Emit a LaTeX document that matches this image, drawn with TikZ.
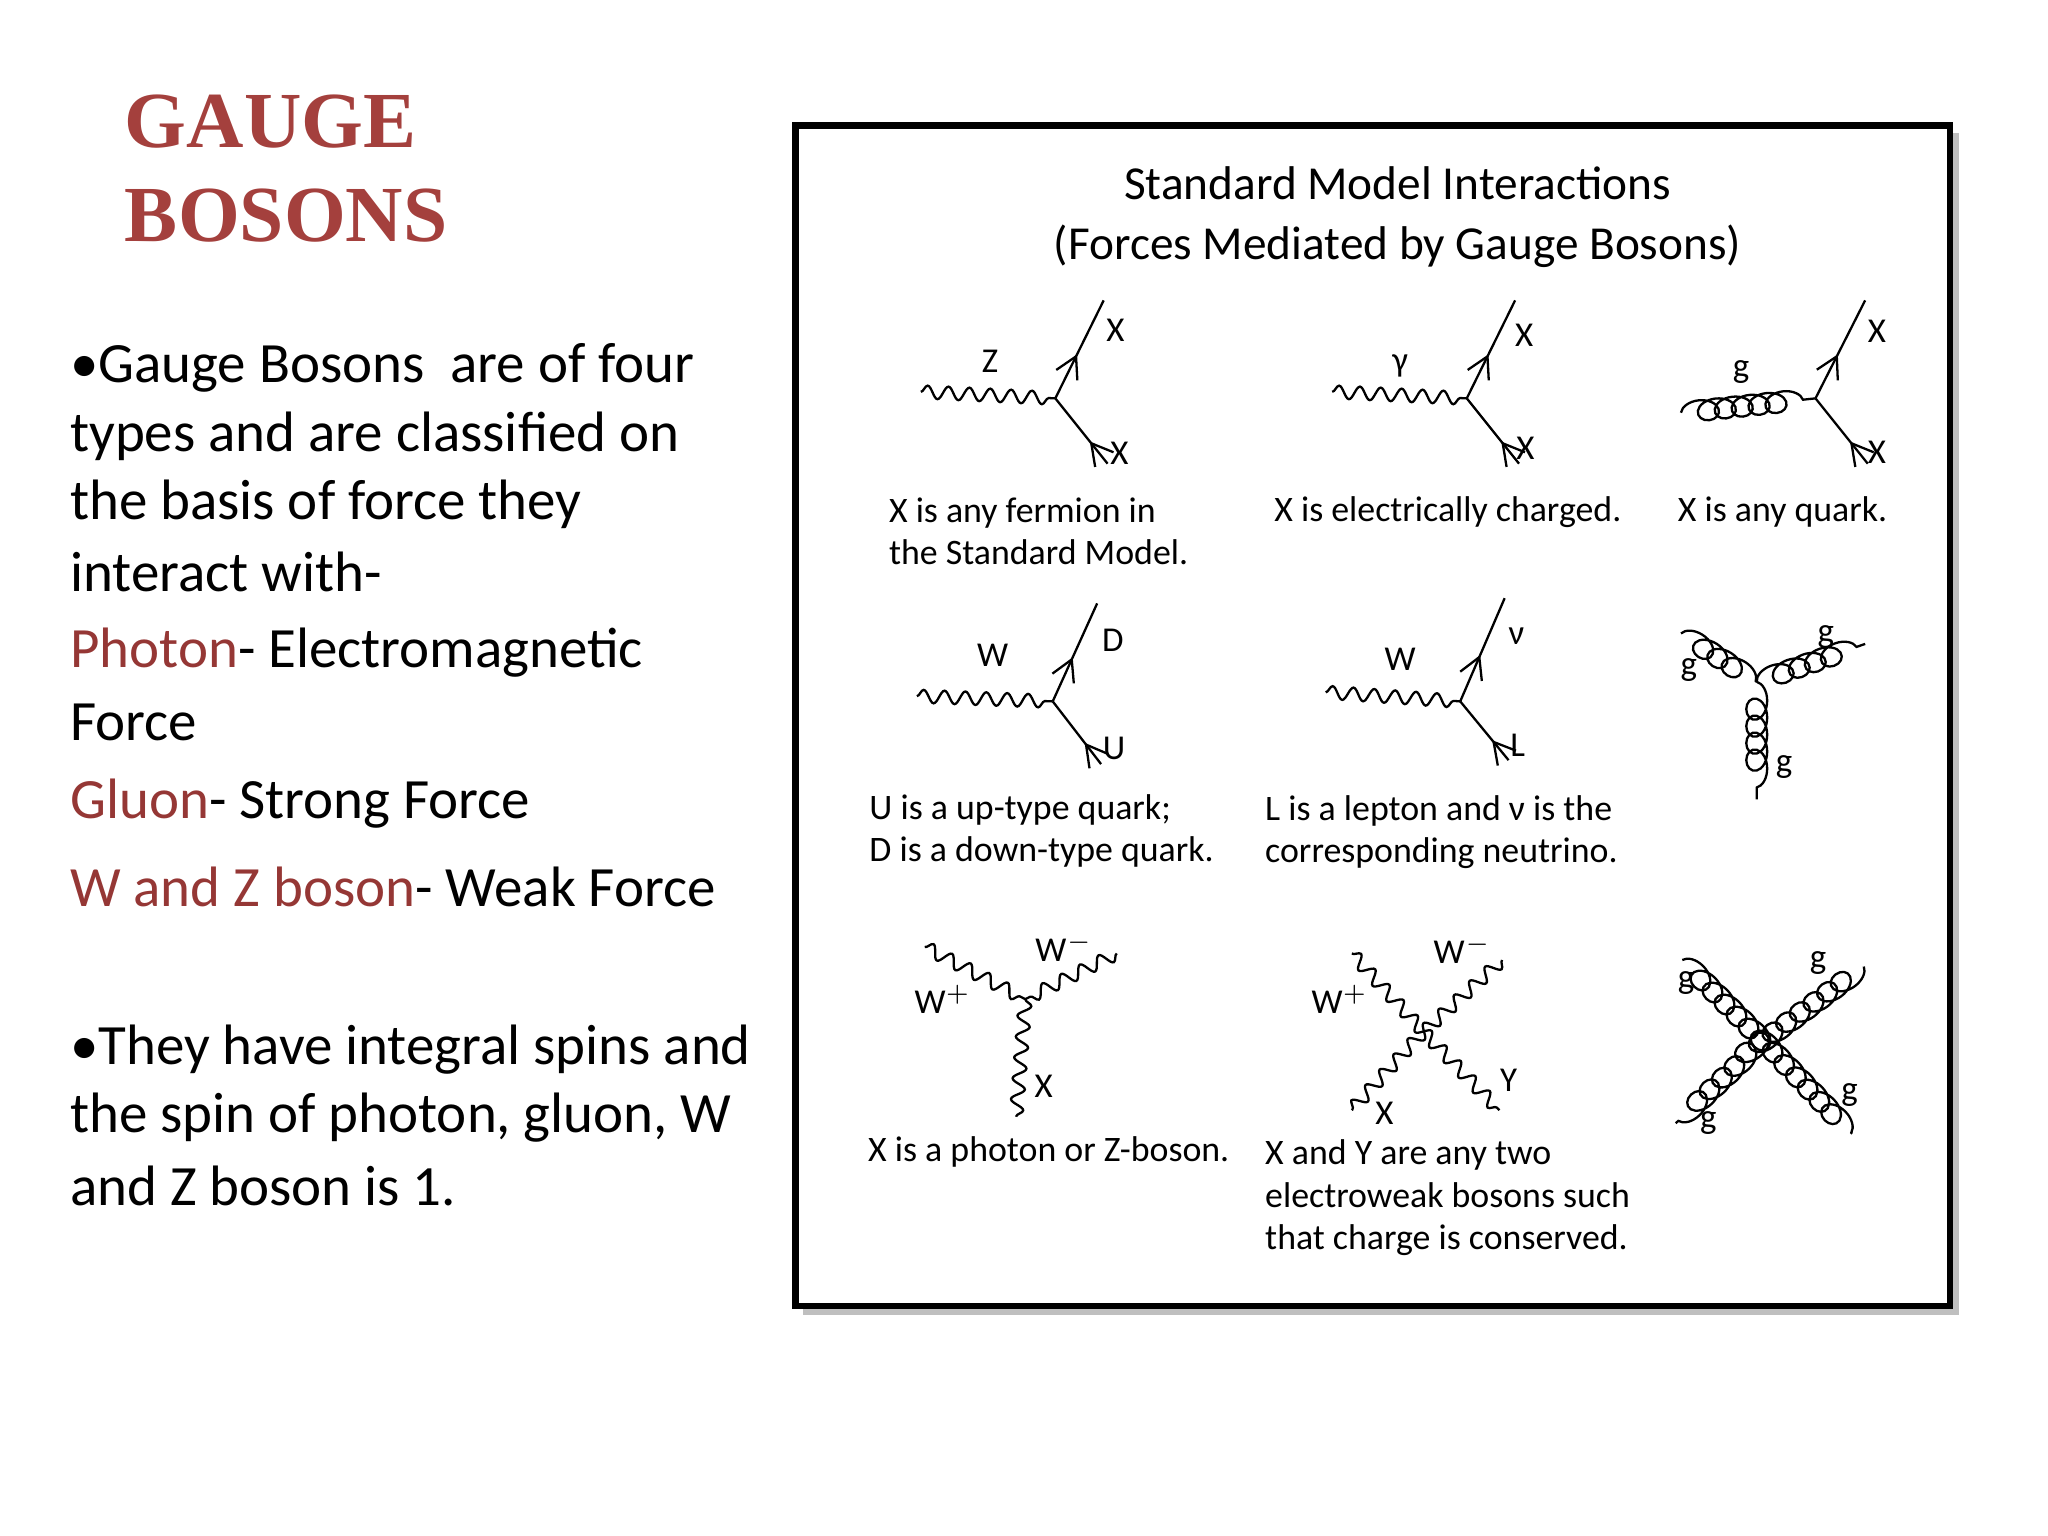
\documentclass[tikz,border=0pt]{standalone}
\usepackage{fontspec}
\setmainfont{Carlito}
\newfontfamily\titlefont{Liberation Serif}
\usetikzlibrary{decorations.pathmorphing,decorations.markings,arrows.meta}
\definecolor{ttl}{HTML}{A4403D}
\definecolor{hl}{HTML}{953735}
\begin{document}
\begin{tikzpicture}[x=0.01cm,y=-0.01cm,
  body/.style={anchor=west,font=\fontsize{12.4}{14}\selectfont,inner sep=0},
  lbl/.style={font=\fontsize{7.6}{8}\selectfont,inner sep=0},
  captxt/.style={anchor=west,font=\fontsize{7.8}{9.2}\selectfont,inner sep=0,align=left},
  fer/.style={line width=0.5pt},
  outarr/.style={fer,postaction={decorate},decoration={markings,mark=at position 0.45 with {\arrow{Straight Barb[length=1.6mm,width=1.8mm]}}}},
  inarr/.style={fer,postaction={decorate},decoration={markings,mark=at position 0.66 with {\arrowreversed{Straight Barb[length=1.6mm,width=1.8mm]}}}},
  wav/.style={line width=0.5pt,decorate,decoration={snake,segment length=0.16cm,amplitude=0.05cm}},
  glu/.style={line width=0.5pt,decorate,decoration={coil,segment length=0.13cm,amplitude=0.08cm,aspect=1.4}}]
\useasboundingbox (0,0) rectangle (1568,1176);
% title
\node[anchor=west,inner sep=0,font=\titlefont\bfseries\fontsize{17.3}{20}\selectfont,text=ttl] (t1) at (95,93) {GAUGE};
\node[anchor=west,inner sep=0,font=\titlefont\bfseries\fontsize{17.3}{20}\selectfont,text=ttl] (t2) at (95,165) {BOSONS};
% left text
\node[body] (b1) at (53,282) {•Gauge Bosons\ \ are of four};
\node[body] (b2) at (53,334) {types and are classified on};
\node[body] (b3) at (53,386) {the basis of force they};
\node[body] (b4) at (53,438) {interact with-};
\node[body] (b5) at (53,500) {\textcolor{hl}{Photon}- Electromagnetic};
\node[body] (b6) at (53,553) {Force};
\node[body] (b7) at (53,615) {\textcolor{hl}{Gluon}- Strong Force};
\node[body] (b8) at (53,679) {\textcolor{hl}{W and Z boson}- Weak Force};
\node[body] (c1) at (53,804) {•They have integral spins and};
\node[body] (c2) at (53,856) {the spin of photon, gluon, W};
\node[body] (c3) at (53,908) {and Z boson is 1.};
% frame
\fill[black!25] (615,102) rectangle (1500,1007);
\draw[line width=1.4pt,fill=white] (609,96) rectangle (1493,1000);
\node[font=\fontsize{10.3}{13}\selectfont,align=center] (hd) at (1070,166) {Standard Model Interactions\\(Forces Mediated by Gauge Bosons)};
% D1
\coordinate (v1) at (808,305); \coordinate (a1) at (705,300); \coordinate (u1) at (845,230); \coordinate (d1) at (848,355);
\draw[wav] (a1) -- (v1); \draw[outarr] (v1) -- (u1); \draw[inarr] (v1) -- (d1);
\node[lbl] (l1a) at (758,277) {Z}; \node[lbl] (l1b) at (854,253) {X}; \node[lbl] (l1c) at (857,347) {X};
\node[captxt] (k1) at (680,407) {X is any fermion in\\the Standard Model.};
% D2
\coordinate (v2) at (1123,305); \coordinate (a2) at (1020,300); \coordinate (u2) at (1160,230); \coordinate (d2) at (1163,355);
\draw[wav] (a2) -- (v2); \draw[outarr] (v2) -- (u2); \draw[inarr] (v2) -- (d2);
\node[lbl] (l2a) at (1072,280) {γ}; \node[lbl] (l2b) at (1167,257) {X}; \node[lbl] (l2c) at (1168,343) {X};
\node[captxt] (k2) at (975,392) {X is electrically charged.};
% D3
\coordinate (v3) at (1390,305); \coordinate (a3) at (1287,316); \coordinate (u3) at (1428,230); \coordinate (d3) at (1430,355);
\draw[glu] (a3) -- (v3); \draw[outarr] (v3) -- (u3); \draw[inarr] (v3) -- (d3);
\node[lbl] (l3a) at (1333,285) {g}; \node[lbl] (l3b) at (1437,254) {X}; \node[lbl] (l3c) at (1437,346) {X};
\node[captxt] (k3) at (1284,392) {X is any quark.};
% D4
\coordinate (v4) at (806,537); \coordinate (a4) at (702,533); \coordinate (u4) at (840,462); \coordinate (d4) at (843,585);
\draw[wav] (a4) -- (v4); \draw[outarr] (v4) -- (u4); \draw[inarr] (v4) -- (d4);
\node[lbl] (l4a) at (760,502) {W}; \node[lbl] (l4b) at (852,490) {D}; \node[lbl] (l4c) at (853,573) {U};
\node[captxt] (k4) at (665,636) {U is a up-type quark;\\D is a down-type quark.};
% D5
\coordinate (v5) at (1118,537); \coordinate (a5) at (1015,530); \coordinate (u5) at (1152,458); \coordinate (d5) at (1155,582);
\draw[wav] (a5) -- (v5); \draw[outarr] (v5) -- (u5); \draw[inarr] (v5) -- (d5);
\node[lbl] (l5a) at (1072,505) {W}; \node[lbl] (l5b) at (1161,487) {ν}; \node[lbl] (l5c) at (1162,571) {L};
\node[captxt] (k5) at (968,637) {L is a lepton and ν is the\\corresponding neutrino.};
% D6
\coordinate (v6) at (1345,522); \coordinate (a6) at (1287,485); \coordinate (b6) at (1428,493); \coordinate (c6) at (1345,612);
\draw[glu] (a6) -- (v6); \draw[glu] (v6) -- (b6); \draw[glu] (v6) -- (c6);
\node[lbl] (l6a) at (1293,513) {g}; \node[lbl] (l6b) at (1398,488) {g}; \node[lbl] (l6c) at (1366,587) {g};
% D7
\coordinate (v7) at (785,765); \coordinate (a7) at (708,725); \coordinate (b7) at (855,730); \coordinate (c7) at (778,855);
\draw[wav] (a7) -- (v7); \draw[wav] (b7) -- (v7); \draw[wav] (v7) -- (c7);
\node[lbl] (l7a) at (722,765) {W$^{+}$}; \node[lbl] (l7b) at (815,725) {W$^{-}$}; \node[lbl] (l7c) at (799,832) {X};
\node[captxt] (k7) at (664,882) {X is a photon or Z-boson.};
% D8
\coordinate (v8) at (1090,790); \coordinate (a8) at (1035,730); \coordinate (b8) at (1150,735); \coordinate (c8) at (1035,850); \coordinate (d8) at (1148,850);
\draw[wav] (a8) -- (v8) -- (d8); \draw[wav] (b8) -- (v8) -- (c8);
\node[lbl] (l8a) at (1026,765) {W$^{+}$}; \node[lbl] (l8b) at (1120,727) {W$^{-}$}; \node[lbl] (l8c) at (1060,852) {X}; \node[lbl] (l8d) at (1155,827) {Y};
\node[captxt] (k8) at (968,917) {X and Y are any two\\electroweak bosons such\\that charge is conserved.};
% D9
\coordinate (v9) at (1350,797); \coordinate (a9) at (1288,735); \coordinate (b9) at (1427,740); \coordinate (c9) at (1283,860); \coordinate (d9) at (1418,868);
\draw[glu] (a9) -- (v9) -- (d9); \draw[glu] (b9) -- (v9) -- (c9);
\node[lbl] (l9a) at (1291,753) {g}; \node[lbl] (l9b) at (1392,737) {g}; \node[lbl] (l9c) at (1308,860) {g}; \node[lbl] (l9d) at (1416,838) {g};
\end{tikzpicture}
\end{document}
